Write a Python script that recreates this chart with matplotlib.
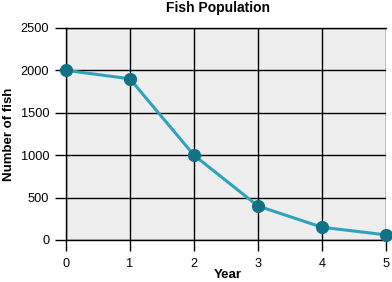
import matplotlib.pyplot as plt

plt.rcParams['font.family'] = ['Liberation Sans', 'DejaVu Sans']

years = [0, 1, 2, 3, 4, 5]
fish = [2000, 1900, 1000, 400, 150, 60]
y_ticks = [0, 500, 1000, 1500, 2000, 2500]

fig = plt.figure(figsize=(3.92, 2.82), dpi=100)
ax = fig.add_axes([0.168, 0.149, 0.817, 0.752])
ax.set_facecolor('#eeeeee')

ax.plot(years, fish, color='#2fa3bd', lw=2.2, zorder=3, clip_on=False)
ax.plot(years, fish, 'o', color='#137186', ms=8.5, zorder=4, clip_on=False)

ax.set_xlim(0, 5)
ax.set_ylim(0, 2500)
ax.set_xticks(years)
ax.set_yticks(y_ticks)
ax.grid(True, color='black', lw=1)
ax.set_axisbelow(True)
for s in ['top', 'left', 'bottom']:
    ax.spines[s].set_color('black')
    ax.spines[s].set_linewidth(1)
ax.spines['right'].set_visible(False)
ax.tick_params(length=8, width=1, labelsize=9.2, colors='black', pad=4)
ax.tick_params(axis='x', pad=5)

# axis labels and title placed by figure coords
fig.text(228 / 392, 1 - 275 / 282, 'Year', fontsize=9.5, fontweight='bold',
         ha='center', va='center')
fig.text(9 / 392, 1 - 134 / 282, 'Number of fish', fontsize=9.5,
         fontweight='bold', rotation=90, ha='center', va='center')
fig.text(218 / 392, 1 - 8 / 282, 'Fish Population', fontsize=10,
         fontweight='bold', ha='center', va='center')

fig.savefig('out.png', dpi=100)
